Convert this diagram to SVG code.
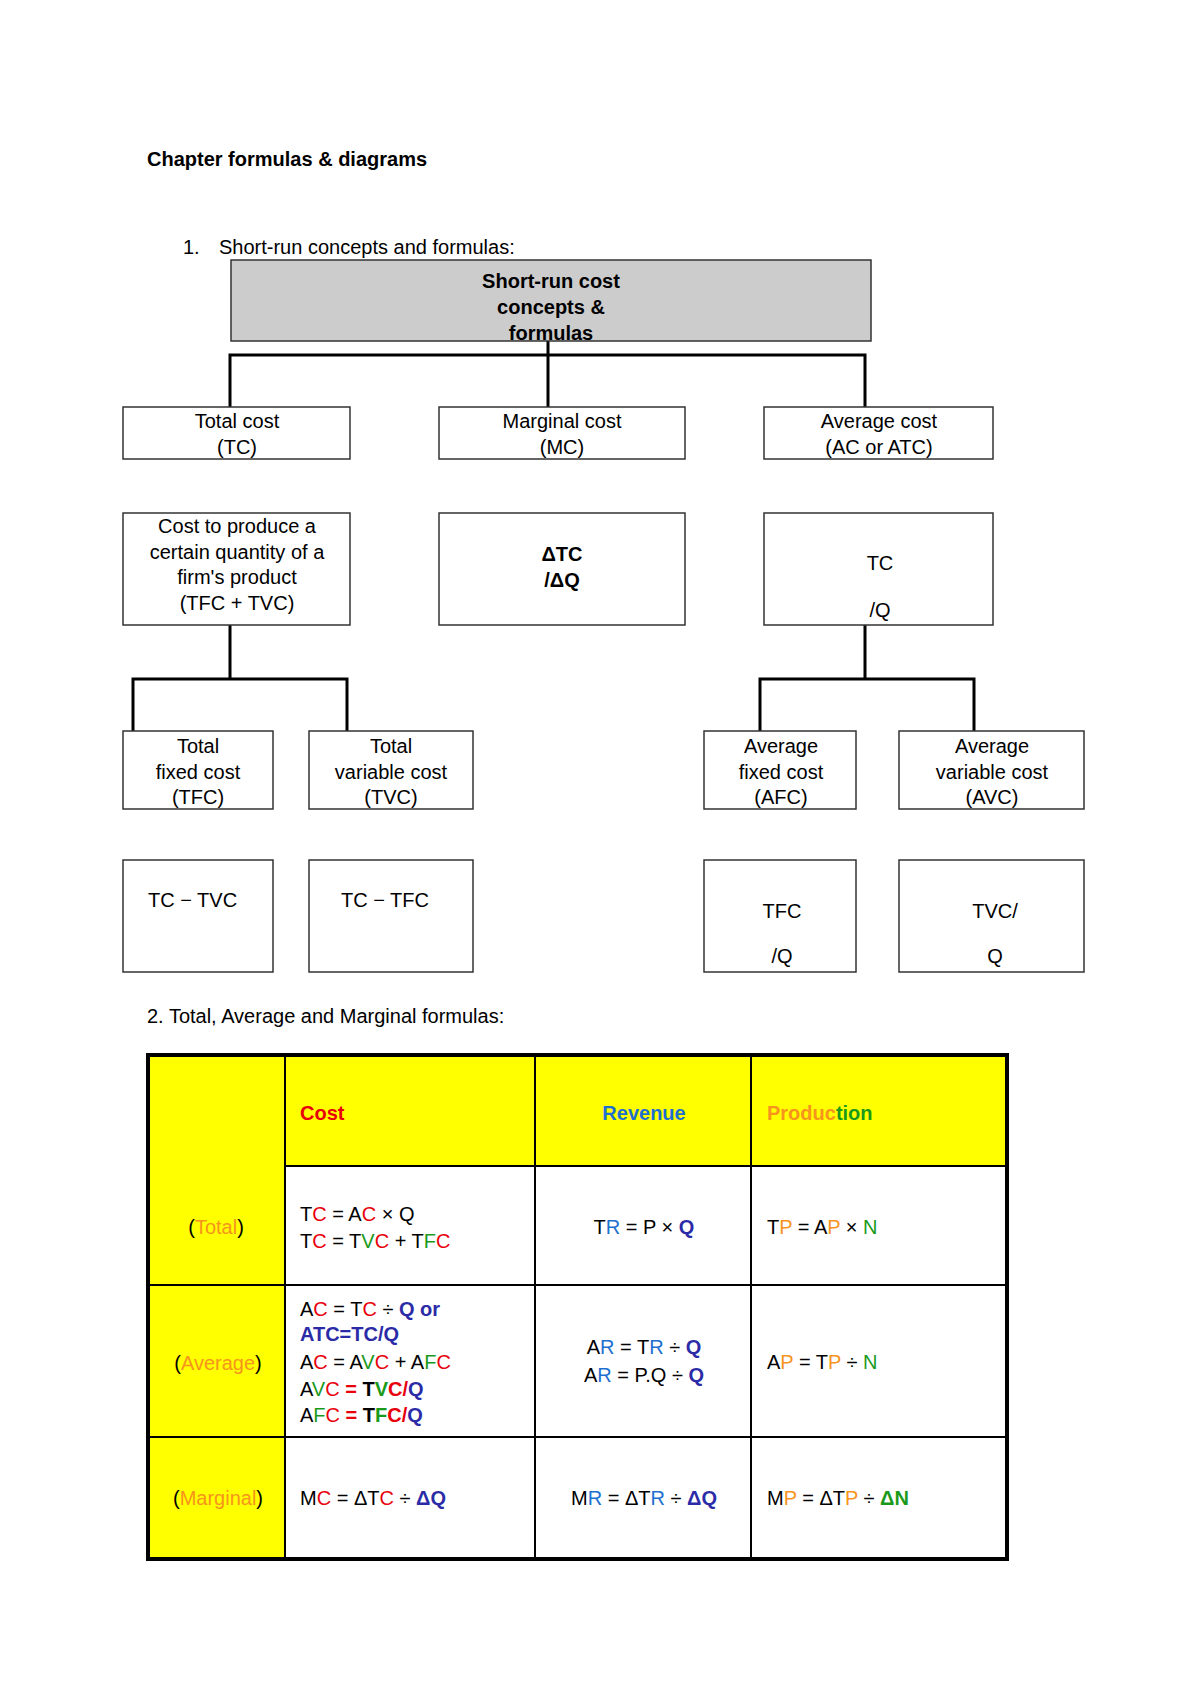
<svg xmlns="http://www.w3.org/2000/svg" width="1200" height="1696" viewBox="0 0 1200 1696">
<style>
text{font-family:"Liberation Sans",Arial,sans-serif;font-size:20px;fill:#000}
.b{font-weight:bold}
.m{text-anchor:middle}
.box{fill:#fff;stroke:#333;stroke-width:1.5}
.con{fill:none;stroke:#000;stroke-width:3}
.g{stroke:#000;stroke-width:2;fill:none}
.r{fill:#e8000b}.bl{fill:#1e6fd0}.db{fill:#2b2ba8}.o{fill:#f7941d}.gr{fill:#1a9a1a}
</style>
<rect width="1200" height="1696" fill="#fff"/>
<text x="147" y="166" class="b">Chapter formulas &amp; diagrams</text>
<text x="183" y="254">1.</text><text x="219" y="254">Short-run concepts and formulas:</text>
<g id="connectors">
<path class="con" d="M230 407V355H865V407M548 341V407"/>
<path class="con" d="M230 625V679M133 731V679H347V731"/>
<path class="con" d="M865 625V679M760 731V679H974V731"/>
</g>
<g id="root"><rect x="231" y="260" width="640" height="81" fill="#ccc" stroke="#333" stroke-width="1.5"/>
<text x="551" y="288" class="b m">Short-run cost</text><text x="551" y="314" class="b m">concepts &amp;</text><text x="551" y="340" class="b m">formulas</text></g>
<g id="tc"><rect class="box" x="123" y="407" width="227" height="52"/><text x="237" y="428" class="m">Total cost</text><text x="237" y="454" class="m">(TC)</text></g>
<g id="mc"><rect class="box" x="439" y="407" width="246" height="52"/><text x="562" y="428" class="m">Marginal cost</text><text x="562" y="454" class="m">(MC)</text></g>
<g id="ac"><rect class="box" x="764" y="407" width="229" height="52"/><text x="879" y="428" class="m">Average cost</text><text x="879" y="454" class="m">(AC or ATC)</text></g>
<g id="tcdef"><rect class="box" x="123" y="513" width="227" height="112"/><text x="237" y="533" class="m">Cost to produce a</text><text x="237" y="559" class="m">certain quantity of a</text><text x="237" y="584" class="m">firm's product</text><text x="237" y="610" class="m">(TFC + TVC)</text></g>
<g id="mcdef"><rect class="box" x="439" y="513" width="246" height="112"/><text x="562" y="561" class="b m">ΔTC</text><text x="562" y="587" class="b m">/ΔQ</text></g>
<g id="acdef"><rect class="box" x="764" y="513" width="229" height="112"/><text x="880" y="570" class="m">TC</text><text x="880" y="617" class="m">/Q</text></g>
<g id="tfc"><rect class="box" x="123" y="731" width="150" height="78"/><text x="198" y="753" class="m">Total</text><text x="198" y="779" class="m">fixed cost</text><text x="198" y="804" class="m">(TFC)</text></g>
<g id="tvc"><rect class="box" x="309" y="731" width="164" height="78"/><text x="391" y="753" class="m">Total</text><text x="391" y="779" class="m">variable cost</text><text x="391" y="804" class="m">(TVC)</text></g>
<g id="afc"><rect class="box" x="704" y="731" width="152" height="78"/><text x="781" y="753" class="m">Average</text><text x="781" y="779" class="m">fixed cost</text><text x="781" y="804" class="m">(AFC)</text></g>
<g id="avc"><rect class="box" x="899" y="731" width="185" height="78"/><text x="992" y="753" class="m">Average</text><text x="992" y="779" class="m">variable cost</text><text x="992" y="804" class="m">(AVC)</text></g>
<g id="tfcf"><rect class="box" x="123" y="860" width="150" height="112"/><text x="148" y="907">TC − TVC</text></g>
<g id="tvcf"><rect class="box" x="309" y="860" width="164" height="112"/><text x="341" y="907">TC − TFC</text></g>
<g id="afcf"><rect class="box" x="704" y="860" width="152" height="112"/><text x="782" y="918" class="m">TFC</text><text x="782" y="963" class="m">/Q</text></g>
<g id="avcf"><rect class="box" x="899" y="860" width="185" height="112"/><text x="995" y="918" class="m">TVC/</text><text x="995" y="963" class="m">Q</text></g>
<text x="147" y="1023">2. Total, Average and Marginal formulas:</text>
<g id="table">
<rect x="147" y="1054" width="861" height="112" fill="#ff0"/>
<rect x="147" y="1166" width="138" height="394" fill="#ff0"/>
<path class="g" d="M285 1054V1560M535 1054V1560M751 1054V1560M285 1166H1008M147 1285H1008M147 1437H1008"/>
<rect x="148" y="1055" width="859" height="504" fill="none" stroke="#000" stroke-width="4"/>
<text x="300" y="1120" class="b r">Cost</text>
<text x="644" y="1120" class="b m bl">Revenue</text>
<text x="767" y="1120" class="b o">Produc<tspan class="gr">tion</tspan></text>
<text x="216" y="1234" class="m">(<tspan class="o">Total</tspan>)</text>
<text x="300" y="1221">T<tspan class="r">C</tspan> = A<tspan class="r">C</tspan> × Q</text>
<text x="300" y="1248">T<tspan class="r">C</tspan> = T<tspan class="gr">V</tspan><tspan class="r">C</tspan> + T<tspan class="gr">F</tspan><tspan class="r">C</tspan></text>
<text x="644" y="1234" class="m">T<tspan class="bl">R</tspan> = P × <tspan class="db b">Q</tspan></text>
<text x="767" y="1234">T<tspan class="o">P</tspan> = A<tspan class="o">P</tspan> × <tspan class="gr">N</tspan></text>
<text x="218" y="1370" class="m">(<tspan class="o">Average</tspan>)</text>
<text x="300" y="1316">A<tspan class="r">C</tspan> = T<tspan class="r">C</tspan> ÷ <tspan class="db b">Q or</tspan></text>
<text x="300" y="1341" class="db b">ATC=TC/Q</text>
<text x="300" y="1369">A<tspan class="r">C</tspan> = A<tspan class="gr">V</tspan><tspan class="r">C</tspan> + A<tspan class="gr">F</tspan><tspan class="r">C</tspan></text>
<text x="300" y="1396">A<tspan class="gr">V</tspan><tspan class="r">C</tspan><tspan class="r b"> = </tspan><tspan class="b">T</tspan><tspan class="gr b">V</tspan><tspan class="r b">C/</tspan><tspan class="db b">Q</tspan></text>
<text x="300" y="1422">A<tspan class="gr">F</tspan><tspan class="r">C</tspan><tspan class="r b"> = </tspan><tspan class="b">T</tspan><tspan class="gr b">F</tspan><tspan class="r b">C/</tspan><tspan class="db b">Q</tspan></text>
<text x="644" y="1354" class="m">A<tspan class="bl">R</tspan> = T<tspan class="bl">R</tspan> ÷ <tspan class="db b">Q</tspan></text>
<text x="644" y="1382" class="m">A<tspan class="bl">R</tspan> = P.Q ÷ <tspan class="db b">Q</tspan></text>
<text x="767" y="1369">A<tspan class="o">P</tspan> = T<tspan class="o">P</tspan> ÷ <tspan class="gr">N</tspan></text>
<text x="218" y="1505" class="m">(<tspan class="o">Marginal</tspan>)</text>
<text x="300" y="1505">M<tspan class="r">C</tspan> = ΔT<tspan class="r">C</tspan> ÷ <tspan class="db b">ΔQ</tspan></text>
<text x="644" y="1505" class="m">M<tspan class="bl">R</tspan> = ΔT<tspan class="bl">R</tspan> ÷ <tspan class="db b">ΔQ</tspan></text>
<text x="767" y="1505">M<tspan class="o">P</tspan> = ΔT<tspan class="o">P</tspan> ÷ <tspan class="gr b">ΔN</tspan></text>
</g>
</svg>
